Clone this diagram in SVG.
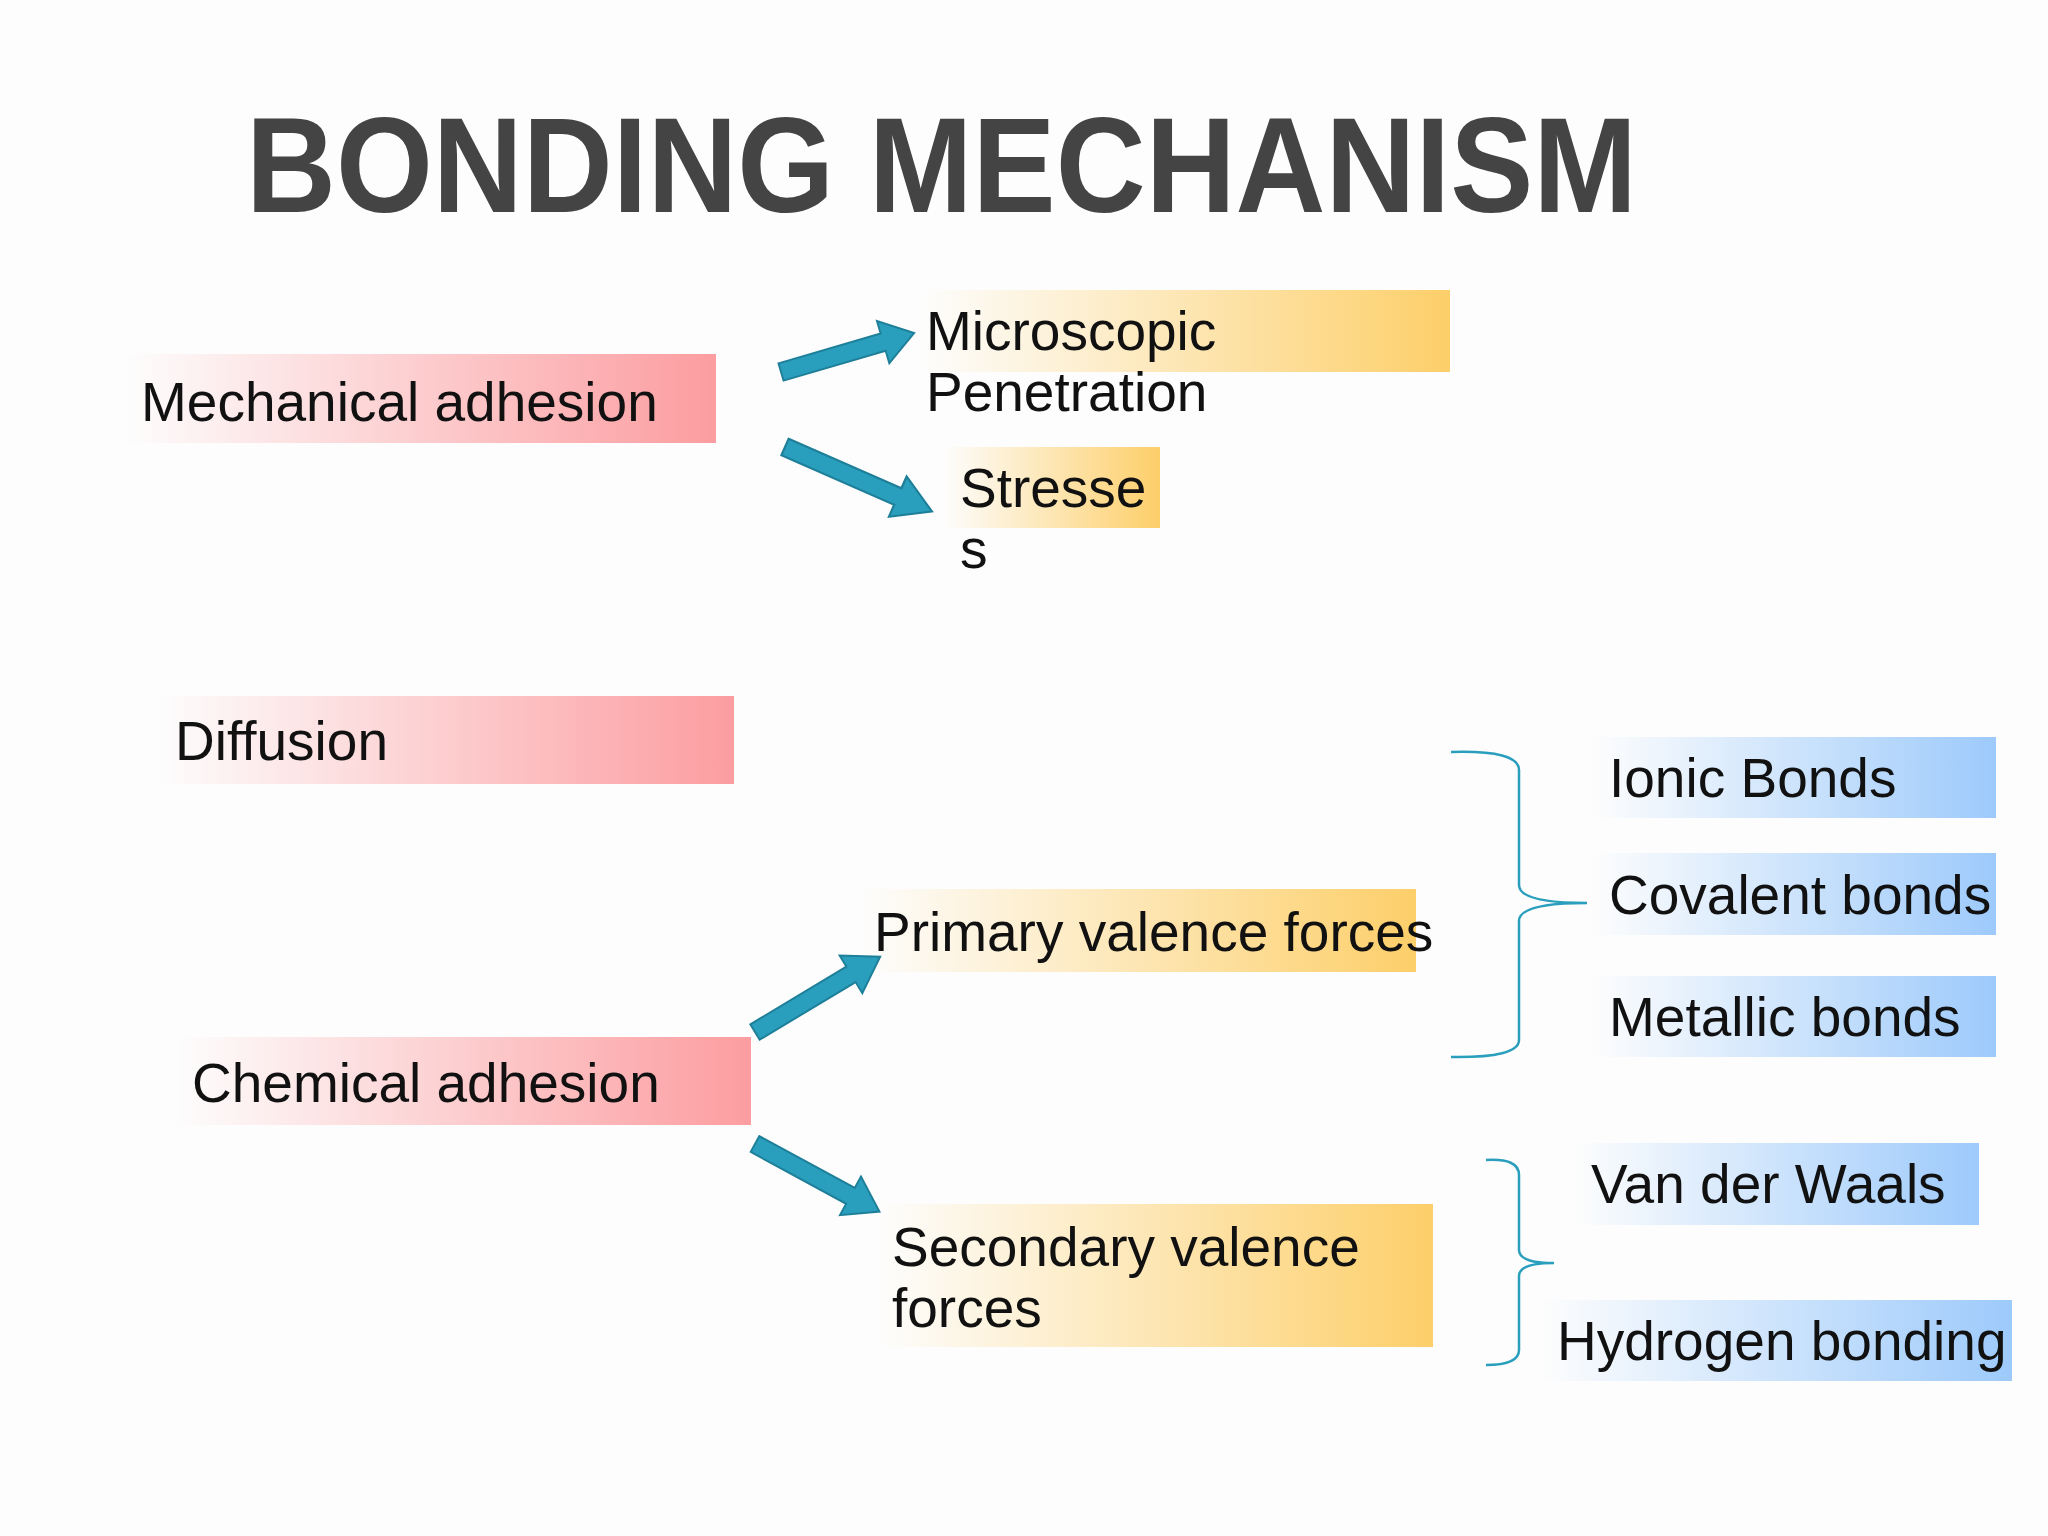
<svg xmlns="http://www.w3.org/2000/svg" width="2048" height="1536" viewBox="0 0 2048 1536">
<defs>
<linearGradient id="pink" x1="0" x2="1" y1="0" y2="0"><stop offset="0" stop-color="#fdfdfd"/><stop offset="1" stop-color="#fc9da0"/></linearGradient>
<linearGradient id="yellow" x1="0" x2="1" y1="0" y2="0"><stop offset="0" stop-color="#fdfdfd"/><stop offset="1" stop-color="#fdcf6a"/></linearGradient>
<linearGradient id="blue" x1="0" x2="1" y1="0" y2="0"><stop offset="0" stop-color="#fdfdfd"/><stop offset="1" stop-color="#9dcafb"/></linearGradient>
<path id="arr" d="M0,-9 H112 V-22 L146,0 L112,22 V9 H0 Z"/>
</defs>
<style>
text{font-family:"Liberation Sans",Arial,sans-serif;font-size:55px;fill:#111}
.title{font-weight:bold;font-size:136px;fill:#444}
.arrow{fill:#2a9fbd;stroke:#1e7f99;stroke-width:2}
.brace{fill:none;stroke:#2a9fbd;stroke-width:2.5}
</style>
<rect width="2048" height="1536" fill="#fdfdfd"/>
<text class="title" x="246" y="212" textLength="1391" lengthAdjust="spacingAndGlyphs">BONDING MECHANISM</text>
<g id="mechanical"><rect x="124" y="354" width="592" height="89" fill="url(#pink)"/><text x="141" y="421">Mechanical adhesion</text></g>
<g id="microscopic"><rect x="921" y="290" width="529" height="82" fill="url(#yellow)"/><text x="926" y="350">Microscopic</text><text x="926" y="411">Penetration</text></g>
<g id="stresses"><rect x="943" y="447" width="217" height="81" fill="url(#yellow)"/><text x="960" y="507">Stresse</text><text x="960" y="568">s</text></g>
<g id="diffusion"><rect x="157" y="696" width="577" height="88" fill="url(#pink)"/><text x="175" y="760">Diffusion</text></g>
<g id="primary"><rect x="862" y="889" width="554" height="83" fill="url(#yellow)"/><text x="874" y="951">Primary valence forces</text></g>
<g id="chemical"><rect x="176" y="1037" width="575" height="88" fill="url(#pink)"/><text x="192" y="1102">Chemical adhesion</text></g>
<g id="secondary"><rect x="878" y="1204" width="555" height="143" fill="url(#yellow)"/><text x="892" y="1266">Secondary valence</text><text x="892" y="1327">forces</text></g>
<g id="ionic"><rect x="1593" y="737" width="403" height="81" fill="url(#blue)"/><text x="1609" y="797">Ionic Bonds</text></g>
<g id="covalent"><rect x="1593" y="853" width="403" height="82" fill="url(#blue)"/><text x="1609" y="914">Covalent bonds</text></g>
<g id="metallic"><rect x="1593" y="976" width="403" height="81" fill="url(#blue)"/><text x="1609" y="1036">Metallic bonds</text></g>
<g id="vanderwaals"><rect x="1574" y="1143" width="405" height="82" fill="url(#blue)"/><text x="1591" y="1203">Van der Waals</text></g>
<g id="hydrogen"><rect x="1541" y="1300" width="471" height="81" fill="url(#blue)"/><text x="1557" y="1360">Hydrogen bonding</text></g>
<g id="connectors">
<use href="#arr" class="arrow" transform="translate(781,372) rotate(-16.3) scale(0.95,1)"/>
<use href="#arr" class="arrow" transform="translate(785,447) rotate(23.7) scale(1.1,1)"/>
<use href="#arr" class="arrow" transform="translate(755,1032) rotate(-31) scale(1,1)"/>
<use href="#arr" class="arrow" transform="translate(755,1144) rotate(28.5) scale(0.97,1)"/>
<path class="brace" d="M1451,752 Q1519,750 1519,770 V885 Q1519,903 1587,903 Q1519,903 1519,921 V1040 Q1519,1058 1451,1057"/>
<path class="brace" d="M1486,1160 Q1519,1158 1519,1175 V1250 Q1519,1263 1554,1263 Q1519,1263 1519,1276 V1350 Q1519,1365 1486,1365"/>
</g>
</svg>
